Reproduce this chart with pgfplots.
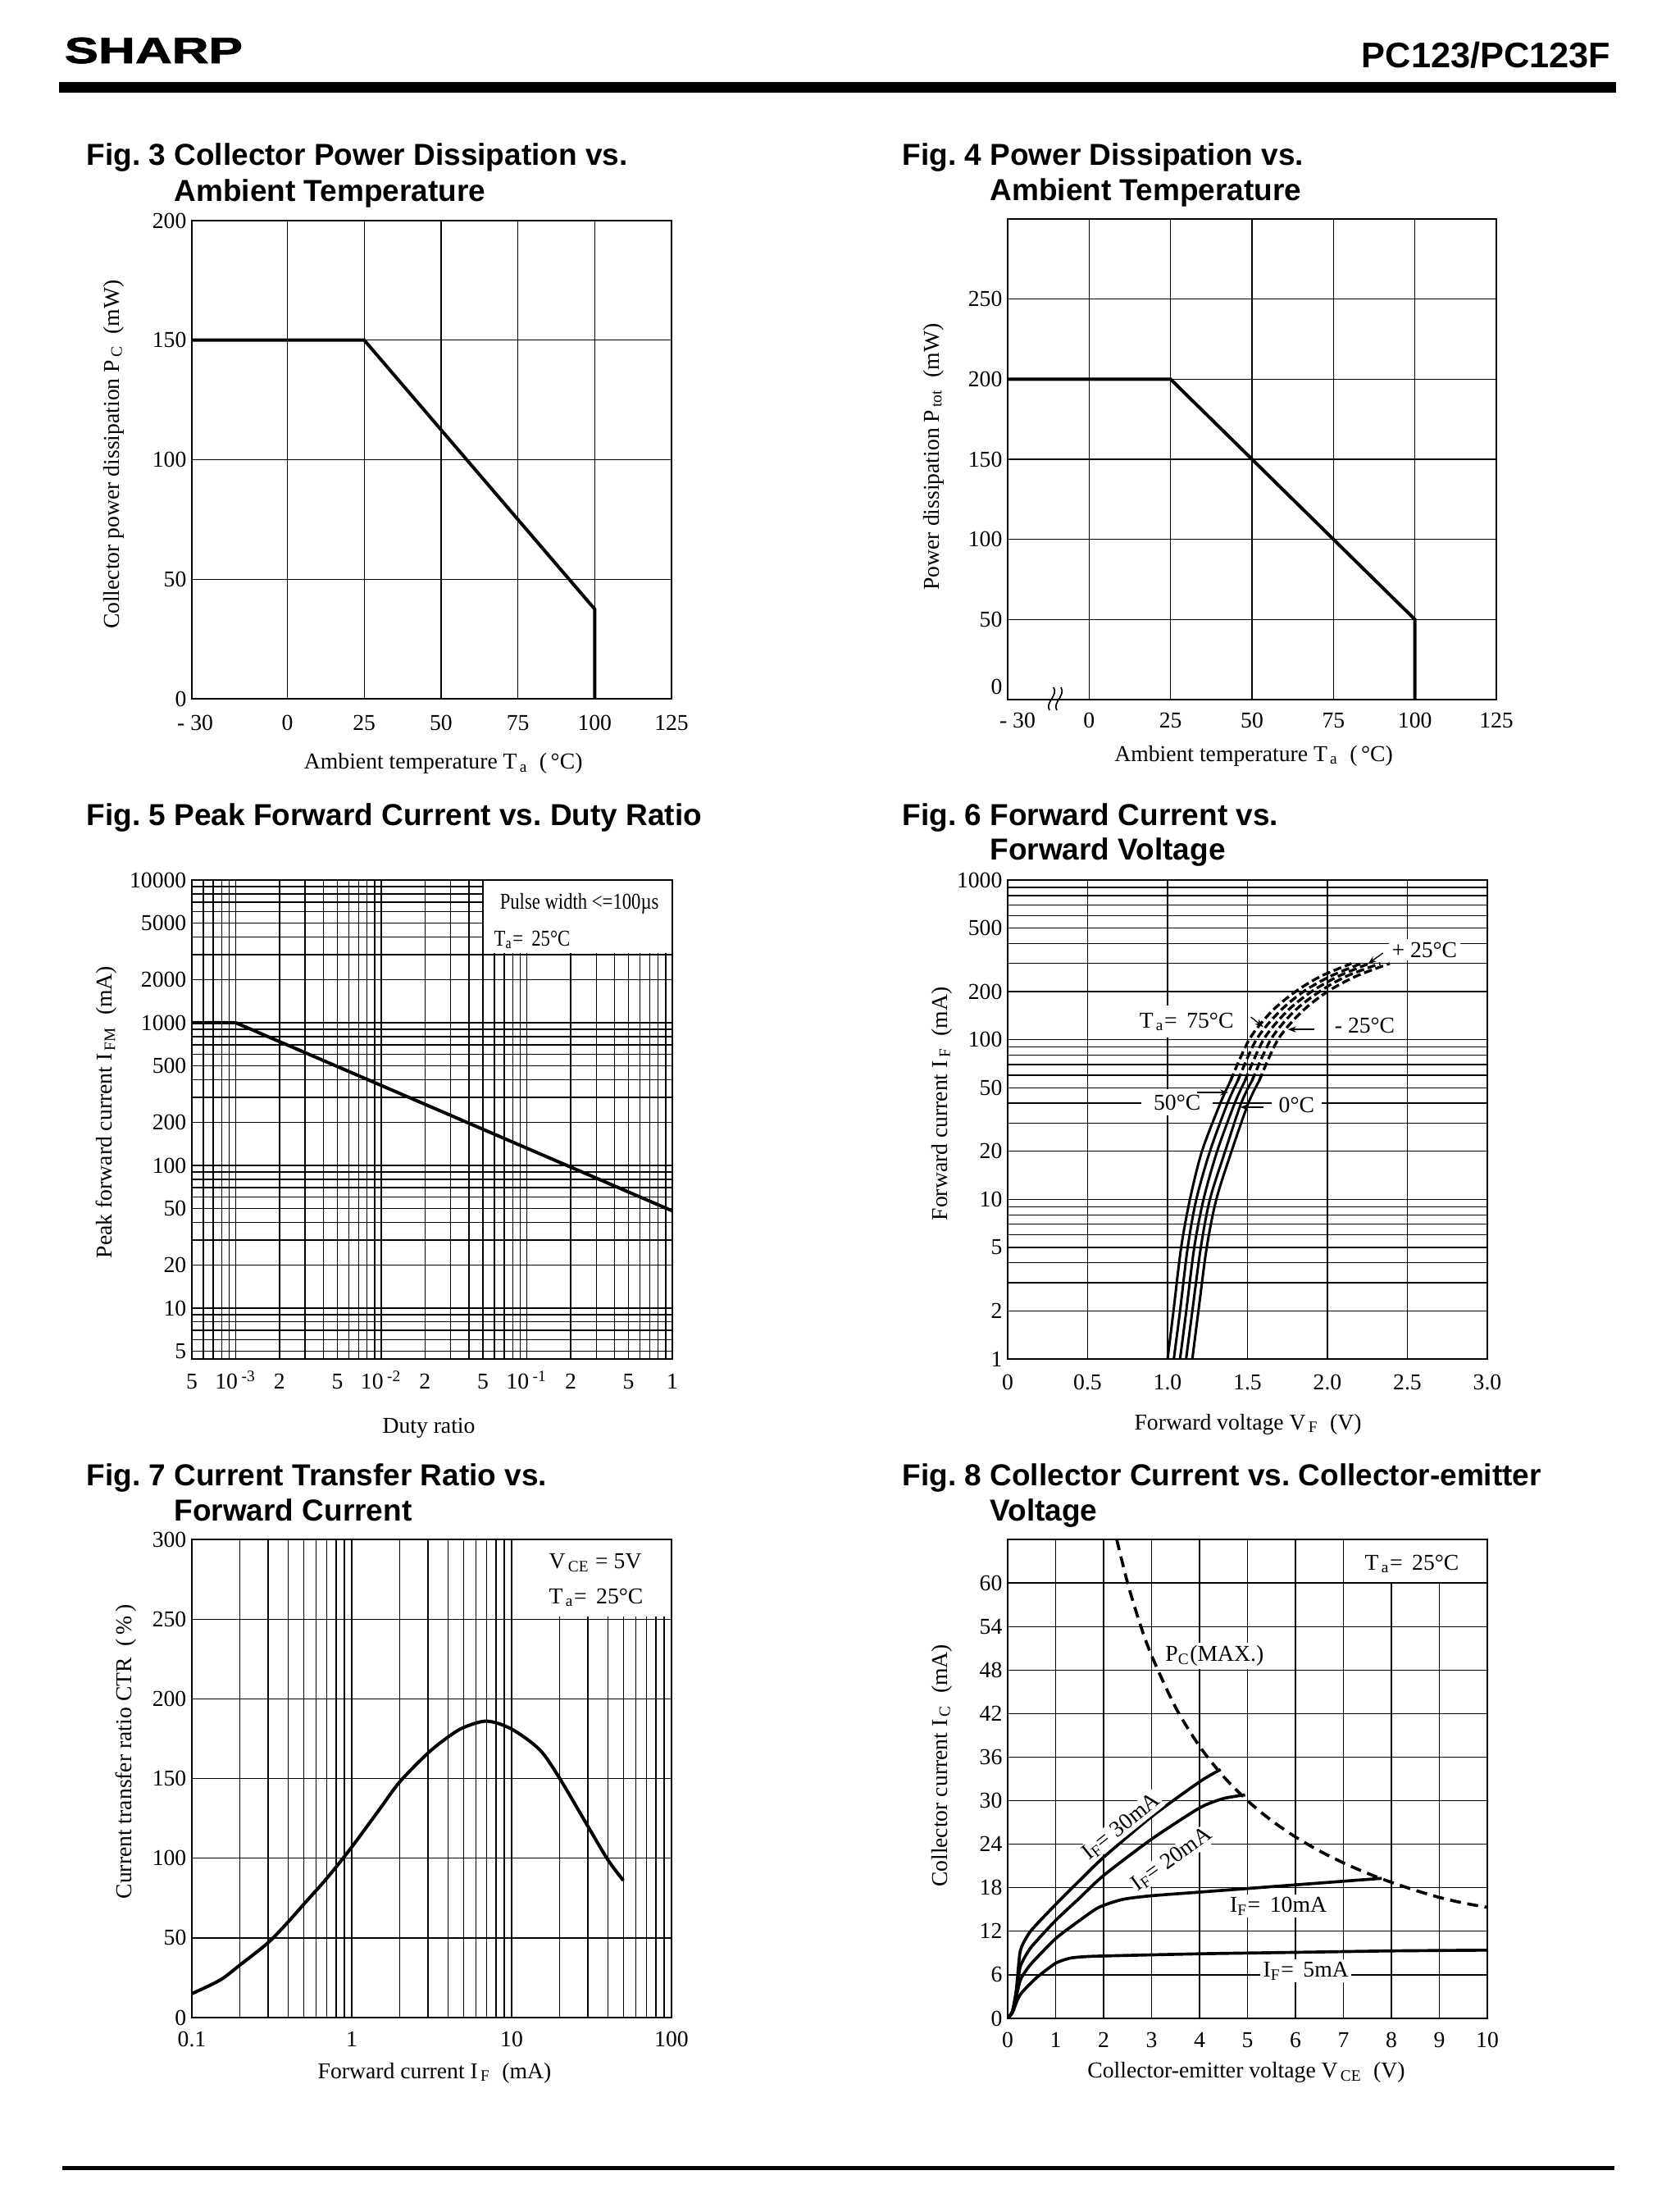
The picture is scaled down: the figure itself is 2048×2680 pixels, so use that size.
\documentclass[border=0pt]{standalone}
\usepackage{fontspec}
\setmainfont{Liberation Serif}
\newfontfamily\arialfont{Liberation Sans}
\newfontfamily\logofont{Liberation Sans Bold}[FakeBold=1.6]
\newfontfamily\condfont{Liberation Serif}[FakeStretch=0.82]
\usepackage{graphicx}
\usepackage{pgfplots}
\pgfplotsset{compat=1.18}
\usetikzlibrary{arrows.meta}
\newcommand{\tfont}{\fontsize{8.3}{10}\selectfont}
\newcommand{\titlefont}{\arialfont\bfseries\fontsize{11.1}{13.3}\selectfont}
\tikzset{ttl/.style={anchor=base west, inner sep=0pt, font=\titlefont},
  border/.style={line width=0.75pt, black},
  lead/.style={-{Stealth[length=3pt,width=2.2pt]}, line width=0.4pt}}
\pgfplotsset{
  sheet/.style={
    scale only axis, anchor=north west, enlargelimits=false,
    axis line style={line width=0.75pt, black},
    major grid style={line width=0.4pt, black},
    minor grid style={line width=0.4pt, black},
    major tick length=0pt, minor tick length=0pt,
    tick label style={font=\tfont},
    label style={font=\tfont},
    xticklabel style={anchor=base, inner sep=0pt},
    yticklabel style={anchor=east, inner sep=0pt, xshift=-1.8pt},
    /pgf/number format/assume math mode=true,
    extra tick style={grid=none},
    xlabel style={anchor=base},
    ylabel style={anchor=base},
  },
}
\begin{document}
\begin{tikzpicture}
\begin{scope}[x=0.3pt,y=-0.3pt]
\path[use as bounding box] (0,0) rectangle (2048,2680);
\fill[black] (72,100) rectangle (1971,113);
\fill[black] (76,2641) rectangle (1969,2646);
\node[anchor=base west, inner sep=0pt] at (78,77) {\scalebox{1.39}[1]{\logofont\fontsize{13.4}{14}\selectfont SHARP}};
\node[anchor=base east, inner sep=0pt, font=\arialfont\bfseries\fontsize{13}{14}\selectfont] at (1965,83) {PC123/PC123F};
\node[ttl] at (105,202) {Fig.\ 3 Collector Power Dissipation vs.};
\node[ttl] at (105,246) {\hphantom{Fig.\ 3 }Ambient Temperature};
\node[ttl] at (1100,202) {Fig.\ 4 Power Dissipation vs.};
\node[ttl] at (1100,245) {\hphantom{Fig.\ 4 }Ambient Temperature};
\node[ttl] at (105,1006) {Fig.\ 5 Peak Forward Current vs.\ Duty Ratio};
\node[ttl] at (1100,1006) {Fig.\ 6 Forward Current vs.};
\node[ttl] at (1100,1048) {\hphantom{Fig.\ 6 }Forward Voltage};
\node[ttl] at (105,1811) {Fig.\ 7 Current Transfer Ratio vs.};
\node[ttl] at (105,1854) {\hphantom{Fig.\ 7 }Forward Current};
\node[ttl] at (1100,1811) {Fig.\ 8 Collector Current vs.\ Collector-emitter};
\node[ttl] at (1100,1854) {\hphantom{Fig.\ 8 }Voltage};
\coordinate (F3) at (234,269);
\coordinate (F4) at (1229,267);
\coordinate (F5) at (234,1073);
\coordinate (F6) at (1229,1073);
\coordinate (F7) at (234,1877);
\coordinate (F8) at (1229,1877);
\end{scope}

% ---------------- Fig 3
\begin{axis}[sheet, at={(F3)}, width=175.5pt, height=174.9pt,
  xmin=-31.1, xmax=125, ymin=0, ymax=200, grid=major,
  xtick={0,25,50,75,100,125}, xticklabels={0,25,50,75,100,125},
  extra x ticks={-30}, extra x tick labels={{- 30}},
  ytick={0,50,100,150,200}, yticklabels={0,50,100,150,200},
  xticklabel style={yshift=-11.6pt},
  xlabel={Ambient temperature T\textsubscript{\,a}\enspace(\,°C)},
  ylabel={Collector power dissipation P\textsubscript{\,C}\enspace(mW)},
  xlabel style={at={(axis description cs:0.5243,-0.1475)}},
  ylabel style={at={(axis description cs:-0.1521,0.511)}},
]
\addplot[line width=1.2pt] coordinates {(-31.1,150) (25,150) (100,37.5) (100,0)};
\end{axis}

% ---------------- Fig 4
\begin{axis}[sheet, at={(F4)}, width=178.8pt, height=175.8pt,
  xmin=-25, xmax=125, ymin=0, ymax=300, grid=major,
  xtick={0,25,50,75,100,125}, xticklabels={0,25,50,75,100,125},
  extra x ticks={-22}, extra x tick labels={{- 30}},
  ytick={50,100,150,200,250}, yticklabels={50,100,150,200,250},
  extra y ticks={7.8}, extra y tick labels={0},
  xticklabel style={yshift=-10.5pt},
  xlabel={Ambient temperature T\textsubscript{\,a}\enspace(\,°C)},
  ylabel={Power dissipation P\textsubscript{\,tot}\enspace(mW)},
  xlabel style={at={(axis description cs:0.5034,-0.128)}},
  ylabel style={at={(axis description cs:-0.1409,0.5051)}},
]
\addplot[line width=1.2pt] coordinates {(-25,200) (25,200) (100,50) (100,0)};
\end{axis}

% ---------------- Fig 5
\begin{axis}[sheet, at={(F5)}, width=175.8pt, height=175.2pt,
  xmode=log, ymode=log, xmin=5e-4, xmax=1, ymin=4.4, ymax=10000, grid=both,
  xtick={5e-4,1e-3,2e-3,5e-3,1e-2,2e-2,5e-2,1e-1,2e-1,5e-1,1},
  xticklabels={5,10\,\textsuperscript{-3},2,5,10\,\textsuperscript{-2},2,5,10\,\textsuperscript{-1},2,5,1},
  minor xtick={6e-4,7e-4,8e-4,9e-4,3e-3,4e-3,6e-3,7e-3,8e-3,9e-3,3e-2,4e-2,6e-2,7e-2,8e-2,9e-2,3e-1,4e-1,6e-1,7e-1,8e-1,9e-1},
  ytick={5,10,20,50,100,200,500,1000,2000,5000,10000},
  yticklabels={5,10,20,50,100,200,500,1000,2000,5000,10000},
  minor ytick={6,7,8,9,30,40,60,70,80,90,300,400,600,700,800,900,3000,4000,6000,7000,8000,9000},
  xticklabel style={yshift=-11.1pt},
  xlabel={Duty ratio},
  ylabel={Peak forward current I\textsubscript{\,FM}\enspace(mA)},
  xlabel style={at={(axis description cs:0.4932,-0.1558)}},
  ylabel style={at={(axis description cs:-0.1659,0.5154)}},
]
\fill[white] (axis cs:0.0506,3060) rectangle (axis cs:1,10000);
\draw[border] (rel axis cs:0,0) rectangle (rel axis cs:1,1);
\node[anchor=base, inner sep=0pt, font=\condfont\tfont] at (rel axis cs:0.8065,0.940) {Pulse width <=100µs};
\node[anchor=base west, inner sep=0pt, font=\condfont\tfont] at (rel axis cs:0.628,0.863) {T\textsubscript{a}= \,25°C};
\addplot[line width=1.2pt] coordinates {(5e-4,1000) (1e-3,1000) (1,48)};
\end{axis}

% ---------------- Fig 6
\begin{axis}[sheet, at={(F6)}, width=175.5pt, height=175.2pt,
  xmin=0, xmax=3, ymode=log, ymin=1, ymax=1000, grid=both,
  xtick={0,0.5,1,1.5,2,2.5,3}, xticklabels={0,0.5,1.0,1.5,2.0,2.5,3.0},
  ytick={1,2,5,10,20,50,100,200,500,1000}, yticklabels={1,2,5,10,20,50,100,200,500,1000},
  minor ytick={3,4,6,7,8,9,30,40,60,70,80,90,300,400,600,700,800,900},
  xticklabel style={yshift=-11.1pt},
  xlabel={Forward voltage V\textsubscript{\,F}\enspace(V)},
  ylabel={Forward current I\textsubscript{\,F}\enspace(mA)},
  xlabel style={at={(axis description cs:0.5009,-0.1473)}},
  ylabel style={at={(axis description cs:-0.1265,0.5325)}},
]
% Ta = 75 C
\addplot[line width=0.9pt, smooth] coordinates {(1.000,1) (1.037,2) (1.085,5) (1.14,10) (1.215,20) (1.33,40) (1.393,55)};
\addplot[line width=1pt, smooth, dash pattern=on 3pt off 1.4pt] coordinates {(1.393,55) (1.51,100) (1.65,150) (1.80,200) (1.96,250) (2.15,300)};
% Ta = 50 C
\addplot[line width=0.9pt, smooth] coordinates {(1.039,1) (1.078,2) (1.126,5) (1.18,10) (1.265,20) (1.375,40) (1.438,55)};
\addplot[line width=1pt, smooth, dash pattern=on 3pt off 1.4pt] coordinates {(1.438,55) (1.555,100) (1.70,150) (1.85,200) (2.02,250) (2.21,300)};
% Ta = 25 C
\addplot[line width=0.9pt, smooth] coordinates {(1.078,1) (1.117,2) (1.167,5) (1.225,10) (1.31,20) (1.42,40) (1.483,55)};
\addplot[line width=1pt, smooth, dash pattern=on 3pt off 1.4pt] coordinates {(1.483,55) (1.60,100) (1.745,150) (1.90,200) (2.07,250) (2.26,300)};
% Ta = 0 C
\addplot[line width=0.9pt, smooth] coordinates {(1.116,1) (1.155,2) (1.208,5) (1.265,10) (1.36,20) (1.46,40) (1.527,55)};
\addplot[line width=1pt, smooth, dash pattern=on 3pt off 1.4pt] coordinates {(1.527,55) (1.645,100) (1.79,150) (1.95,200) (2.12,250) (2.33,300)};
% Ta = -25 C
\addplot[line width=0.9pt, smooth] coordinates {(1.155,1) (1.193,2) (1.245,5) (1.305,10) (1.40,20) (1.505,40) (1.572,55)};
\addplot[line width=1pt, smooth, dash pattern=on 3pt off 1.4pt] coordinates {(1.572,55) (1.69,100) (1.84,150) (2.00,200) (2.18,250) (2.39,300)};
\node[anchor=base west, fill=white, inner xsep=2pt, inner ysep=2.5pt, font=\tfont] at (axis cs:0.787,118.9) {T\textsubscript{\,a}= \,75°C};
\node[anchor=base west, fill=white, inner sep=2pt, font=\tfont] at (axis cs:2.008,110.8) {- 25°C};
\node[anchor=base west, fill=white, inner sep=1pt, font=\tfont] at (axis cs:2.382,329) {+ 25°C};
\node[anchor=base west, fill=white, inner xsep=4.5pt, inner ysep=2pt, font=\tfont] at (axis cs:0.833,36.4) {50°C};
\node[anchor=base west, fill=white, inner xsep=2.6pt, inner ysep=2pt, font=\tfont] at (axis cs:1.648,34.8) {0°C};
\draw[lead] (axis cs:1.521,138.7) -- (axis cs:1.598,120.3);
\draw[lead] (axis cs:1.916,116) -- (axis cs:1.752,116);
\draw[lead] (axis cs:2.347,349) -- (axis cs:2.254,299);
\draw[lead] (axis cs:1.187,46.7) -- (axis cs:1.38,46.7);
\draw[lead] (axis cs:1.598,37.8) -- (axis cs:1.454,37.8);
\end{axis}

% ---------------- Fig 7
\begin{axis}[sheet, at={(F7)}, width=175.5pt, height=174.9pt,
  xmode=log, xmin=0.1, xmax=100, ymin=0, ymax=300, grid=both,
  xtick={0.1,1,10,100}, xticklabels={0.1,1,10,100},
  minor xtick={0.2,0.3,0.4,0.5,0.6,0.7,0.8,0.9,2,3,4,5,6,7,8,9,20,30,40,50,60,70,80,90},
  ytick={0,50,100,150,200,250,300}, yticklabels={0,50,100,150,200,250,300},
  xticklabel style={yshift=-10.65pt},
  xlabel={Forward current I\textsubscript{\,F}\enspace(mA)},
  ylabel={Current transfer ratio CTR\enspace(\,\%\,)},
  xlabel style={at={(axis description cs:0.506,-0.1269)}},
  ylabel style={at={(axis description cs:-0.1248,0.5557)}},
]
\fill[white] (axis cs:12,251.5) rectangle (axis cs:100,300);
\draw[border] (rel axis cs:0,0) rectangle (rel axis cs:1,1);
\node[anchor=base west, inner sep=0pt, font=\tfont] at (rel axis cs:0.7436,0.9383) {V\textsubscript{\,CE} = 5V};
\node[anchor=base west, inner sep=0pt, font=\tfont] at (rel axis cs:0.7436,0.8662) {T\textsubscript{\,a}= \,25°C};
\addplot[line width=1.2pt, smooth] coordinates {(0.1,15) (0.15,23.5) (0.2,33) (0.3,47) (0.4,60) (0.5,71) (0.7,87.5) (1,107) (1.5,131) (2,148) (3,166) (4,176) (5,182) (7,186) (10,181) (15,168) (20,150) (30,120) (40,99) (50,86)};
\end{axis}

% ---------------- Fig 8
\begin{axis}[sheet, at={(F8)}, width=175.5pt, height=175.2pt,
  xmin=0, xmax=10, ymin=0, ymax=66, grid=major,
  xtick={0,1,2,3,4,5,6,7,8,9,10}, xticklabels={0,1,2,3,4,5,6,7,8,9,10},
  ytick={0,6,12,18,24,30,36,42,48,54,60}, yticklabels={0,6,12,18,24,30,36,42,48,54,60},
  xticklabel style={yshift=-10.65pt},
  xlabel={Collector-emitter voltage V\textsubscript{\,CE}\enspace(V)},
  ylabel={Collector current I\textsubscript{\,C}\enspace(mA)},
  xlabel style={at={(axis description cs:0.4974,-0.125)}},
  ylabel style={at={(axis description cs:-0.1265,0.5274)}},
]
\fill[white] (axis cs:7.3,60.15) rectangle (axis cs:10,66);
\draw[border] (rel axis cs:0,0) rectangle (rel axis cs:1,1);
\node[anchor=base west, inner sep=0pt, font=\tfont] at (rel axis cs:0.7436,0.9366) {T\textsubscript{\,a}= \,25°C};
\addplot[line width=1.1pt, smooth, dash pattern=on 4pt off 2.4pt] coordinates {(2.273,66) (2.5,60) (2.75,54.55) (3,50) (3.5,42.86) (4,37.5) (4.5,33.33) (5,30) (5.5,27.27) (6,25) (6.5,23.08) (7,21.43) (7.5,20) (8,18.75) (8.5,17.65) (9,16.67) (9.5,15.9) (10,15.3)};
\addplot[line width=1.1pt, smooth, tension=0.4] coordinates {(0,0) (0.1,1) (0.18,4) (0.25,8.8) (0.32,10.3) (0.5,12.2) (1,15.7) (1.5,19) (2,22.2) (3,27.8) (4,32.6) (4.44,34.3)};
\addplot[line width=1.1pt, smooth, tension=0.4] coordinates {(0,0) (0.1,1) (0.18,3.5) (0.25,6.8) (0.32,8) (0.5,9.9) (1,13.5) (1.5,16.6) (2,19.7) (3,24.7) (4,29) (4.5,30.3) (4.95,30.8)};
\addplot[line width=1.1pt, smooth, tension=0.4] coordinates {(0,0) (0.1,0.9) (0.18,3) (0.25,5) (0.32,6) (0.5,7.6) (1,11) (1.5,13.5) (1.9,15.3) (2.4,16.4) (3,16.9) (4,17.4) (5,17.9) (6,18.4) (7,18.9) (7.8,19.3)};
\addplot[line width=1.1pt, smooth, tension=0.4] coordinates {(0,0) (0.1,0.8) (0.2,2.5) (0.3,3.6) (0.6,5.6) (1,7.6) (1.3,8.3) (1.6,8.5) (2,8.6) (4,8.9) (6,9.1) (8,9.3) (10,9.4)};
\node[anchor=base west, fill=white, inner sep=1pt, font=\tfont] at (axis cs:3.22,49.2) {P\textsubscript{C}(MAX.)};
\node[rotate=38.6, fill=white, inner sep=0.5pt, font=\tfont] at (axis cs:2.37,26.4) {I\textsubscript{F}= 30mA};
\node[rotate=35.5, fill=white, inner sep=0.5pt, font=\tfont] at (axis cs:3.42,21.9) {I\textsubscript{F}= 20mA};
\node[anchor=base west, fill=white, inner sep=1pt, font=\tfont] at (axis cs:4.565,14.63) {I\textsubscript{F}= \,10mA};
\node[anchor=base west, fill=white, inner sep=1pt, font=\tfont] at (axis cs:5.26,5.7) {I\textsubscript{F}= \,5mA};
\end{axis}

\begin{scope}[x=0.3pt,y=-0.3pt]
\draw[line width=0.5pt] (1280,866) .. controls (1274,857) and (1291,848) .. (1285,838);
\draw[line width=0.5pt] (1289,866) .. controls (1283,857) and (1300,848) .. (1294,838);
\end{scope}
\end{tikzpicture}
\end{document}
